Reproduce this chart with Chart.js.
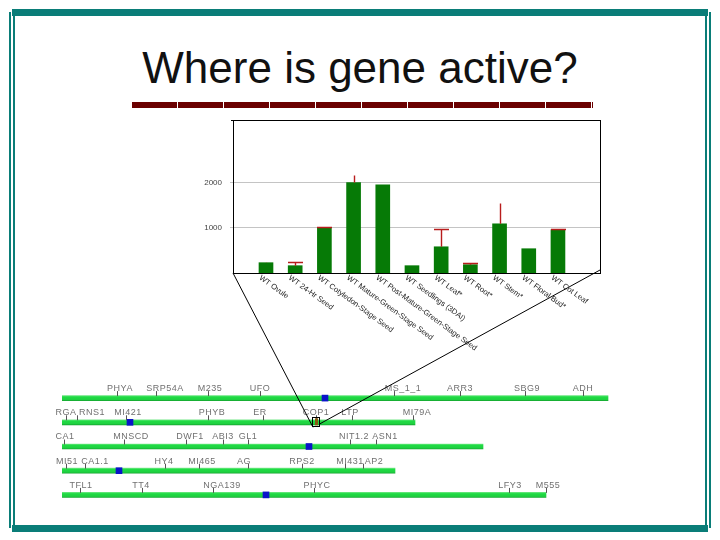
<!DOCTYPE html>
<html>
<head>
<meta charset="utf-8">
<title>Where is gene active?</title>
<script src="https://cdn.jsdelivr.net/npm/chart.js@4/dist/chart.umd.min.js"></script>
<style>
html, body { margin: 0; padding: 0; background: #fff; }
#slide { position: relative; width: 720px; height: 540px; overflow: hidden; background: #fff; }
#slide div, #slide canvas { position: absolute; }
.teal { background: #0a7d78; }
#title { left: 0; width: 720px; top: 39px; text-align: center; font: 44px/58px "Liberation Sans", Arial, sans-serif; color: #111; }
#rule { left: 132px; top: 102px; width: 461px; height: 6px;
  background: repeating-linear-gradient(90deg, #6b0000 0, #6b0000 45px, #fff 45px, #fff 46px); }
</style>
</head>
<body>
<div id="slide">
  <div class="teal" style="left:12px;top:9px;width:696px;height:7px"></div>
  <div class="teal" style="left:12px;top:525px;width:696px;height:7px"></div>
  <div class="teal" style="left:9px;top:12px;width:2px;height:516px"></div>
  <div class="teal" style="left:13px;top:12px;width:2px;height:516px"></div>
  <div class="teal" style="left:705px;top:12px;width:2px;height:516px"></div>
  <div class="teal" style="left:709px;top:12px;width:2px;height:516px"></div>
  <div id="title">Where is gene active?</div>
  <div id="rule"></div>
  <canvas id="barChart" width="720" height="540" style="left:0;top:0"></canvas>
  <canvas id="mapChart" width="720" height="540" style="left:0;top:0"></canvas>
</div>
<script>
// expression chart
const tissues = ["WT Ovule", "WT 24-Hr Seed", "WT Cotyledon-Stage Seed", "WT Mature-Green-Stage Seed",
    "WT Post-Mature-Green-Stage Seed", "WT Seedlings (3DAI)", "WT Leaf*", "WT Root*", "WT Stem*",
    "WT Floral Bud*", "WT Cot Leaf"];
const expression = [228, 162, 1000, 2000, 1950, 162, 580, 184, 1088, 537, 956];
const errorTop = [250, 243, 1007, 2170, 1950, 162, 978, 220, 1544, 537, 978];
const errorCap = [false, true, true, false, false, false, true, true, false, false, true];
const yTicks = [1000, 2000];

// chromosome map, positions are distance along the map
const chromosomes = ["1", "2", "3", "4", "5"];
const chromLength = [546, 353, 421, 333, 484];
const centromere = [263, 68, 247, 57, 204];
const markerNames = [
    ["PHYA", "SRP54A", "M235", "UFO", "MS_1_1", "ARR3", "SBG9", "ADH"],
    ["RGA", "RNS1", "MI421", "PHYB", "ER", "COP1", "LTP", "MI79A"],
    ["CA1", "MNSCD", "DWF1", "ABI3", "GL1", "NIT1.2", "ASN1"],
    ["MI51", "CA1.1", "HY4", "MI465", "AG", "RPS2", "MI431", "AP2"],
    ["TFL1", "TT4", "NGA139", "PHYC", "LFY3", "M555"]
];
const markerPos = [
    [55, 94, 146, 198, 332, 398, 463, 521],
    [4, 15, 64, 146, 201, 254, 290, 351],
    [2, 62, 124, 161, 186, 288, 314],
    [4, 23, 103, 137, 186, 240, 283, 301],
    [18, 80, 151, 252, 447, 484]
];

// label offset from its tick, not data
const labelShift = [
    [3, 9, 2, 0, 9, 0, 2, 0],
    [0, 15, 2, 4, -3, 0, -2, 4],
    [1, 7, 4, 0, 0, 4, 9],
    [1, 10, -1, 3, -4, 0, 5, 11],
    [1, -1, 9, 3, 1, 2]
];

const errorBars = {
    id: 'errorBars',
    afterDatasetsDraw(chart) {
        const { ctx, scales: { x, y }, chartArea: a } = chart;
        ctx.save();
        ctx.strokeStyle = '#b81c1c';
        ctx.lineWidth = 1.4;
        errorTop.forEach((top, i) => {
            if (top <= expression[i]) return;
            const px = Math.round(x.getPixelForValue(i)) + 0.5;
            const py = Math.round(y.getPixelForValue(top)) + 0.5;
            ctx.beginPath();
            ctx.moveTo(px, y.getPixelForValue(expression[i]));
            ctx.lineTo(px, py);
            if (errorCap[i]) {
                ctx.moveTo(px - 7.5, py);
                ctx.lineTo(px + 7.5, py);
            }
            ctx.stroke();
        });
        // frame around the plot
        ctx.strokeStyle = '#000';
        ctx.lineWidth = 1;
        ctx.strokeRect(a.left + 0.5, a.top + 0.5, a.right - a.left, a.bottom - a.top);
        ctx.beginPath();
        ctx.moveTo(a.left - 2, a.top + 0.5);
        ctx.lineTo(a.left, a.top + 0.5);
        ctx.stroke();
        // tissue names go down to the right from the bar
        ctx.fillStyle = '#222';
        ctx.font = '7.7px "Liberation Sans", Arial, sans-serif';
        ctx.textBaseline = 'middle';
        tissues.forEach((name, i) => {
            ctx.save();
            ctx.translate(x.getPixelForValue(i) - 6, a.bottom + 4);
            ctx.rotate(36 * Math.PI / 180);
            ctx.fillText(name, 0, 0);
            ctx.restore();
        });
        ctx.restore();
    }
};

new Chart(document.getElementById('barChart'), {
    type: 'bar',
    data: {
        datasets: [{
            data: expression.map((v, i) => ({ x: i, y: v })),
            backgroundColor: '#067a06',
            barThickness: 14
        }]
    },
    options: {
        responsive: false,
        animation: false,
        layout: { padding: { top: 120, right: 120, bottom: 267, left: 0 } },
        plugins: { legend: { display: false }, tooltip: { enabled: false } },
        scales: {
            x: {
                type: 'linear',
                offset: false,
                min: -1.13,
                max: 11.44,
                grid: { display: false },
                border: { display: false },
                ticks: { display: false },
                afterFit: s => { s.height = 0; }
            },
            y: {
                min: 0,
                max: 3384,
                afterBuildTicks: s => { s.ticks = yTicks.map(v => ({ value: v })); },
                afterFit: s => { s.width = 233; },
                grid: { color: '#c4c4c4', tickLength: 3, tickColor: '#c4c4c4' },
                border: { display: false },
                ticks: {
                    color: '#444',
                    padding: 8,
                    font: { family: '"Liberation Sans", Arial, sans-serif', size: 8 },
                    callback: v => String(v)
                }
            }
        }
    },
    plugins: [errorBars]
});

function chromFill(ctx) {
    const y = ctx.chart.scales.y.getPixelForValue(ctx.dataIndex);
    if (!Number.isFinite(y)) return '#1fd040';
    const g = ctx.chart.ctx.createLinearGradient(0, y - 3, 0, y + 3);
    g.addColorStop(0, '#7fe98f');
    g.addColorStop(0.3, '#1fdc44');
    g.addColorStop(0.75, '#1fd040');
    g.addColorStop(1, '#129a2c');
    return g;
}

const markerLabels = {
    id: 'markerLabels',
    afterDatasetsDraw(chart) {
        const { ctx, scales: { x, y } } = chart;
        ctx.save();
        ctx.font = '9px "Liberation Sans", Arial, sans-serif';
        ctx.textAlign = 'center';
        ctx.textBaseline = 'middle';
        ctx.letterSpacing = '0.5px';
        markerNames.forEach((names, c) => {
            const cy = y.getPixelForValue(c);
            names.forEach((name, m) => {
                const px = Math.round(x.getPixelForValue(markerPos[c][m])) + 0.5;
                ctx.strokeStyle = '#555';
                ctx.beginPath();
                ctx.moveTo(px, cy - 7);
                ctx.lineTo(px, cy - 2);
                ctx.stroke();
                ctx.fillStyle = '#707070';
                ctx.fillText(name, x.getPixelForValue(markerPos[c][m] + labelShift[c][m]), cy - 9.5);
            });
        });
        ctx.letterSpacing = '0px';

        // box on COP1 and the two lines up to the corners of the plot
        const bx = x.getPixelForValue(markerPos[1][5]);
        const by = y.getPixelForValue(1);
        ctx.fillStyle = '#8a5a10';
        ctx.fillRect(bx - 1, by - 4, 3, 7);
        ctx.strokeStyle = '#000';
        ctx.lineWidth = 1;
        ctx.strokeRect(Math.round(bx) - 3.5, Math.round(by) - 4.5, 7, 9);
        ctx.beginPath();
        ctx.moveTo(bx - 3, by + 5);
        ctx.lineTo(233, 273);
        ctx.moveTo(bx + 3, by + 2);
        ctx.lineTo(600, 270);
        ctx.stroke();
        ctx.restore();
    }
};

new Chart(document.getElementById('mapChart'), {
    type: 'bar',
    data: {
        labels: chromosomes,
        datasets: [
            {
                data: centromere.map(v => [v - 3, v + 3]),
                backgroundColor: '#0a14c8',
                barThickness: 6
            },
            {
                data: chromLength.map(v => [0, v]),
                backgroundColor: chromFill,
                barThickness: 5
            }
        ]
    },
    options: {
        indexAxis: 'y',
        responsive: false,
        animation: false,
        layout: { padding: { top: 386, right: 0, bottom: 33, left: 62 } },
        plugins: { legend: { display: false }, tooltip: { enabled: false } },
        datasets: { bar: { grouped: false } },
        scales: {
            x: { type: 'linear', min: 0, max: 658, display: false },
            y: { type: 'category', display: false }
        }
    },
    plugins: [markerLabels]
});
</script>
</body>
</html>
